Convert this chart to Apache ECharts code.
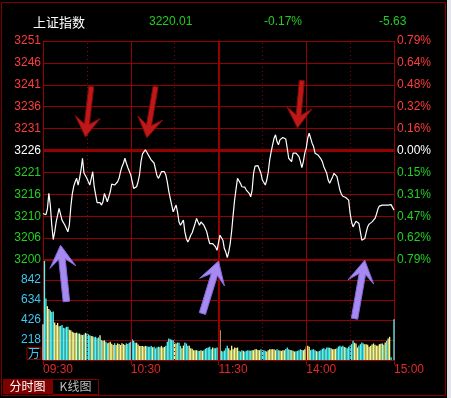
<!DOCTYPE html>
<html>
<head>
<meta charset="utf-8">
<script src="https://cdn.jsdelivr.net/npm/echarts@6.0.0/dist/echarts.min.js"></script>
<style>
html, body { margin: 0; padding: 0; background: #000; }
#chart { width: 451px; height: 398px; }
</style>
</head>
<body>
<div id="chart"></div>
<script>
// 行情头
const header = ['上证指数', '3220.01', '-0.17%', '-5.63']
const preClose = 3225.64
const maxPct = 0.79

// 坐标刻度
const priceTicks = ['3200', '3206', '3210', '3216', '3221', '3226', '3231', '3236', '3241', '3246', '3251']
const pctTicks = ['0.79%', '0.62%', '0.47%', '0.31%', '0.15%', '0.00%', '0.16%', '0.32%', '0.48%', '0.64%', '0.79%']
const volTicks = ['万', '218', '426', '634', '842', '']
const timeTicks = ['09:30', '10:30', '11:30', '14:00', '15:00']

// 分时价格 (241 点)
const prices = [
  3210.99, 3210.83, 3210.70, 3212.00, 3215.67, 3212.93, 3208.26, 3204.92, 3206.70, 3209.03,
  3210.60, 3212.16, 3211.76, 3209.43, 3209.03, 3208.26, 3207.49, 3206.70, 3208.26, 3212.45,
  3215.50, 3217.30, 3218.37, 3219.17, 3217.60, 3219.17, 3221.11, 3223.84, 3220.40, 3220.71,
  3219.17, 3218.37, 3217.60, 3219.17, 3220.71, 3217.21, 3216.83, 3213.50, 3213.30, 3213.50,
  3212.93, 3213.70, 3215.67, 3215.27, 3213.70, 3214.87, 3216.04, 3217.80, 3218.10, 3217.60,
  3218.00, 3218.37, 3219.17, 3220.71, 3221.88, 3222.67, 3223.84, 3222.67, 3221.70, 3221.30,
  3219.94, 3218.37, 3216.83, 3216.44, 3217.21, 3218.37, 3219.94, 3223.05, 3224.80, 3225.30,
  3225.78, 3225.24, 3224.61, 3224.21, 3223.44, 3223.84, 3222.67, 3222.27, 3219.70, 3219.17,
  3219.60, 3220.71, 3220.71, 3220.71, 3219.94, 3218.30, 3216.20, 3214.50, 3212.93, 3211.37,
  3212.16, 3212.93, 3211.30, 3209.00, 3208.26, 3208.26, 3209.43, 3206.70, 3205.16, 3204.36,
  3205.00, 3205.93, 3206.50, 3206.70, 3208.66, 3209.83, 3209.03, 3208.26, 3209.00, 3209.10,
  3208.26, 3207.49, 3206.70, 3205.16, 3203.99, 3203.59, 3203.99, 3203.59, 3203.19, 3202.42,
  3202.19, 3205.93, 3205.53, 3204.76, 3202.82, 3202.00, 3200.72, 3202.03, 3203.99, 3206.90,
  3210.60, 3214.10, 3216.70, 3219.17, 3218.77, 3218.00, 3217.21, 3217.60, 3217.10, 3216.44,
  3216.04, 3215.67, 3214.87, 3216.44, 3220.40, 3222.00, 3222.00, 3222.10, 3222.44, 3220.34,
  3218.77, 3218.37, 3217.60, 3218.77, 3220.60, 3223.44, 3225.30, 3226.95, 3228.51, 3229.28,
  3227.72, 3226.95, 3228.11, 3228.11, 3228.65, 3229.00, 3228.30, 3226.17, 3223.84, 3223.84,
  3223.05, 3225.01, 3225.38, 3225.01, 3224.61, 3224.21, 3223.05, 3221.64, 3223.05, 3225.01,
  3226.20, 3228.50, 3229.68, 3228.51, 3227.34, 3226.55, 3225.01, 3225.38, 3224.61, 3224.21,
  3223.70, 3223.05, 3221.88, 3221.50, 3220.34, 3218.77, 3218.00, 3218.30, 3219.50, 3220.34,
  3220.71, 3219.54, 3218.00, 3216.44, 3215.50, 3215.00, 3215.00, 3214.70, 3214.50, 3214.10,
  3210.99, 3209.00, 3207.86, 3208.50, 3209.20, 3209.43, 3208.66, 3206.70, 3204.76, 3204.36,
  3205.16, 3206.60, 3207.90, 3208.50, 3208.66, 3209.03, 3209.43, 3209.83, 3210.80, 3212.00,
  3212.70, 3212.93, 3212.93, 3212.54, 3212.93, 3212.54, 3212.93, 3213.10, 3213.05, 3212.93,
  3211.76
]

// 成交量 (万)
const volumes = [
  373, 1040, 640, 560, 530, 515, 500, 505, 390, 365,
  385, 350, 355, 365, 335, 330, 345, 345, 315, 310,
  295, 285, 280, 285, 275, 275, 262, 260, 265, 282,
  276, 268, 258, 250, 248, 236, 243, 225, 236, 257,
  208, 201, 205, 190, 173, 180, 191, 170, 156, 173,
  156, 173, 166, 156, 173, 166, 156, 173, 166, 180,
  191, 215, 200, 180, 180, 160, 146, 146, 146, 141,
  146, 142, 139, 139, 146, 132, 139, 121, 132, 139,
  132, 147, 130, 137, 147, 190, 224, 217, 210, 206,
  182, 172, 182, 180, 147, 123, 150, 182, 172, 147,
  147, 123, 118, 102, 102, 102, 95, 95, 102, 95,
  102, 118, 125, 130, 137, 112, 130, 123, 123, 130,
  125, 310, 95, 88, 100, 123, 147, 123, 102, 147,
  112, 130, 125, 130, 95, 88, 102, 95, 88, 95,
  102, 98, 95, 102, 102, 112, 112, 105, 102, 112,
  102, 102, 95, 88, 102, 112, 112, 112, 112, 102,
  112, 102, 98, 95, 102, 102, 115, 130, 112, 105,
  102, 95, 88, 92, 95, 102, 112, 105, 102, 112,
  140, 147, 137, 102, 108, 112, 102, 92, 88, 95,
  102, 118, 123, 112, 130, 130, 128, 123, 112, 112,
  115, 123, 140, 147, 137, 147, 135, 130, 123, 137,
  150, 165, 200, 180, 172, 130, 147, 165, 182, 172,
  165, 165, 158, 137, 147, 160, 172, 158, 150, 147,
  165, 170, 172, 158, 182, 200, 224, 241, 28, 0,
  425
]

// 标注箭头 [起点, 终点]，坐标为 [分钟序号, 价格]
const redArrows = [
  [[33, 3240.5], [29, 3228.8]],
  [[77, 3240.5], [71, 3228.6]],
  [[177, 3241.9], [174, 3230.9]]
]
const purpleArrows = [
  [[16, 3190.5], [12, 3203.6]],
  [[109, 3187.7], [120, 3199.9]],
  [[213, 3186.5], [220, 3200.1]]
]

// 交易分钟
const pad = n => (n < 10 ? '0' : '') + n
const fmtMin = t => pad(Math.floor(t / 60)) + ':' + pad(t % 60)
const times = []
for (let m = 0; m <= 120; m++) times.push(fmtMin(570 + m))
for (let m = 1; m <= 120; m++) times.push(fmtMin(780 + m))

const gridColor = '#960000'
const upColor = '#FF3C3C'
const downColor = '#22D022'
const tickColor = v => (v > 5 ? upColor : v === 5 ? '#FFFFFF' : downColor)
const font = 'Liberation Sans, Arial, sans-serif'
const cjk = 'Noto Sans CJK SC, sans-serif'

const volData = volumes.map((v, i) => ({
  value: v,
  itemStyle: {
    color: i === 0 ? '#E6E6E6' : prices[i] >= prices[i - 1] ? '#F8F890' : '#55F5F5'
  }
}))

const vLine = (idx, dotted, width) => ({
  xAxis: idx,
  lineStyle: { color: gridColor, width: width || 1, type: dotted ? [1, 3] : 'solid' }
})
const vLines = [vLine(30, true), vLine(60), vLine(90, true), vLine(120, false, 2),
  vLine(150, true), vLine(180), vLine(210, true)]

const chart = echarts.init(document.getElementById('chart'))

const option = {
  backgroundColor: '#000',
  animation: false,
  grid: [
    { left: 43, right: 57, top: 41, height: 219, outerBoundsMode: 'none' },
    { left: 43, right: 57, top: 260, height: 100, outerBoundsMode: 'none' }
  ],
  xAxis: [
    { type: 'category', gridIndex: 0, data: times, boundaryGap: false, show: false },
    {
      type: 'category', gridIndex: 1, data: times, boundaryGap: false,
      axisLine: { lineStyle: { color: gridColor } },
      axisTick: {
        show: true, length: 5, lineStyle: { color: gridColor },
        interval: (i, v) => timeTicks.includes(v)
      },
      axisLabel: {
        interval: (i, v) => timeTicks.includes(v),
        align: 'left', margin: 4, color: '#E02828', fontSize: 12, fontFamily: font
      },
      splitLine: { show: false }
    }
  ],
  yAxis: [
    {
      type: 'value', gridIndex: 0, position: 'left', min: 0, max: 10, interval: 1,
      axisLine: { show: true, lineStyle: { color: gridColor } },
      axisTick: { show: false },
      splitLine: { show: true, lineStyle: { color: gridColor } },
      axisLabel: {
        margin: 2, fontSize: 12, fontFamily: font,
        formatter: v => priceTicks[Math.round(v)],
        color: v => tickColor(Math.round(Number(v)))
      }
    },
    {
      type: 'value', gridIndex: 0, position: 'right', min: 0, max: 10, interval: 1,
      axisLine: { show: true, lineStyle: { color: gridColor } },
      axisTick: { show: false },
      splitLine: { show: false },
      axisLabel: {
        margin: 3, fontSize: 12, fontFamily: font,
        formatter: v => pctTicks[Math.round(v)],
        color: v => tickColor(Math.round(Number(v)))
      }
    },
    {
      type: 'value', gridIndex: 0, show: false,
      min: preClose * (1 - maxPct / 100), max: preClose * (1 + maxPct / 100)
    },
    {
      type: 'value', gridIndex: 1, position: 'left', min: 0, max: 1040, interval: 208,
      axisLine: { show: true, lineStyle: { color: gridColor } },
      axisTick: { show: false },
      splitLine: { show: true, lineStyle: { color: gridColor } },
      axisLabel: {
        margin: 2, fontSize: 12, fontFamily: font, color: '#3CC8F0',
        formatter: v => {
          const i = Math.round(v / 208)
          return i === 0 ? '{u|' + volTicks[0] + '}\n{g| }' : volTicks[i]
        },
        rich: {
          u: {
            color: '#3CC8F0', fontSize: 12, fontFamily: cjk, borderColor: gridColor,
            borderWidth: 1, padding: [0, 1, 0, 1], lineHeight: 13
          },
          g: { fontSize: 10, lineHeight: 13 }
        }
      }
    },
    {
      type: 'value', gridIndex: 1, position: 'right', min: 0, max: 1040,
      axisLine: { show: true, lineStyle: { color: gridColor } },
      axisTick: { show: false }, axisLabel: { show: false }, splitLine: { show: false }
    }
  ],
  series: [
    {
      type: 'line', xAxisIndex: 0, yAxisIndex: 2, data: prices,
      showSymbol: false, lineStyle: { color: '#FFFFFF', width: 1.2 }, z: 5,
      markLine: {
        silent: true, symbol: 'none', label: { show: false }, animation: false,
        data: vLines.concat([
          { yAxis: preClose, lineStyle: { color: gridColor, width: 3, type: 'solid' } },
          { yAxis: preClose * (1 - maxPct / 100), lineStyle: { color: gridColor, width: 2, type: 'solid' } }
        ])
      }
    },
    {
      type: 'bar', xAxisIndex: 1, yAxisIndex: 3, data: volData, barWidth: 1.3,
      markLine: {
        silent: true, symbol: 'none', label: { show: false }, animation: false,
        data: vLines
      }
    }
  ]
}

chart.setOption(option)

// 箭头多边形
function arrowPoly(a, b, sw, hl, hw, notch) {
  const dx = b[0] - a[0], dy = b[1] - a[1]
  const len = Math.hypot(dx, dy)
  const ux = dx / len, uy = dy / len, nx = -uy, ny = ux
  const base = [b[0] - ux * hl, b[1] - uy * hl]
  const neck = [b[0] - ux * (hl - notch), b[1] - uy * (hl - notch)]
  return [
    b,
    [base[0] + nx * hw, base[1] + ny * hw],
    [neck[0] + nx * sw / 2, neck[1] + ny * sw / 2],
    [a[0] + nx * sw / 2, a[1] + ny * sw / 2],
    [a[0] - nx * sw / 2, a[1] - ny * sw / 2],
    [neck[0] - nx * sw / 2, neck[1] - ny * sw / 2],
    [base[0] - nx * hw, base[1] - ny * hw]
  ]
}
const toPx = p => chart.convertToPixel({ xAxisIndex: 0, yAxisIndex: 2 }, p)

const graphics = []
redArrows.forEach(([s, e]) => {
  graphics.push({
    type: 'polygon', z: 100,
    shape: { points: arrowPoly(toPx(s), toPx(e), 5, 20, 12.5, 7) },
    style: { fill: '#BE1818', stroke: '#8A0A0A', lineWidth: 1 }
  })
})
purpleArrows.forEach(([s, e]) => {
  graphics.push({
    type: 'polygon', z: 100,
    shape: { points: arrowPoly(toPx(s), toPx(e), 6.5, 22, 13, 8) },
    style: { fill: '#A68AF2', stroke: '#8468D8', lineWidth: 1 }
  })
})

// 外框、标题、标签页
graphics.push(
  { type: 'rect', z: 1, shape: { x: 447, y: 0, width: 4, height: 398 }, style: { fill: '#E4E4EC' } },
  { type: 'rect', z: 1, shape: { x: 1.5, y: 2.5, width: 444, height: 393 }, style: { fill: 'none', stroke: '#800000', lineWidth: 1 } },
  { type: 'text', z: 10, x: 33, y: 22, style: { text: header[0], fill: '#FFFFFF', font: '13px ' + cjk, verticalAlign: 'middle' } },
  { type: 'text', z: 10, x: 149, y: 22, style: { text: header[1], fill: '#22CC22', font: '12px ' + font, verticalAlign: 'middle' } },
  { type: 'text', z: 10, x: 264, y: 22, style: { text: header[2], fill: '#22CC22', font: '12px ' + font, verticalAlign: 'middle' } },
  { type: 'text', z: 10, x: 379, y: 22, style: { text: header[3], fill: '#22CC22', font: '12px ' + font, verticalAlign: 'middle' } },
  { type: 'rect', z: 10, shape: { x: 3, y: 379, width: 49, height: 15 }, style: { fill: '#800000' } },
  { type: 'text', z: 11, x: 27.5, y: 386.5, style: { text: '分时图', fill: '#FFFFFF', font: '12px ' + cjk, align: 'center', verticalAlign: 'middle' } },
  { type: 'rect', z: 10, shape: { x: 52.5, y: 379.5, width: 46, height: 15 }, style: { fill: 'none', stroke: '#800000', lineWidth: 1 } },
  { type: 'text', z: 11, x: 75.5, y: 386.5, style: { text: 'K线图', fill: '#BEBEBE', font: '12px ' + cjk, align: 'center', verticalAlign: 'middle' } }
)

chart.setOption({ graphic: graphics })

window.addEventListener('resize', () => chart.resize())
</script>
</body>
</html>
